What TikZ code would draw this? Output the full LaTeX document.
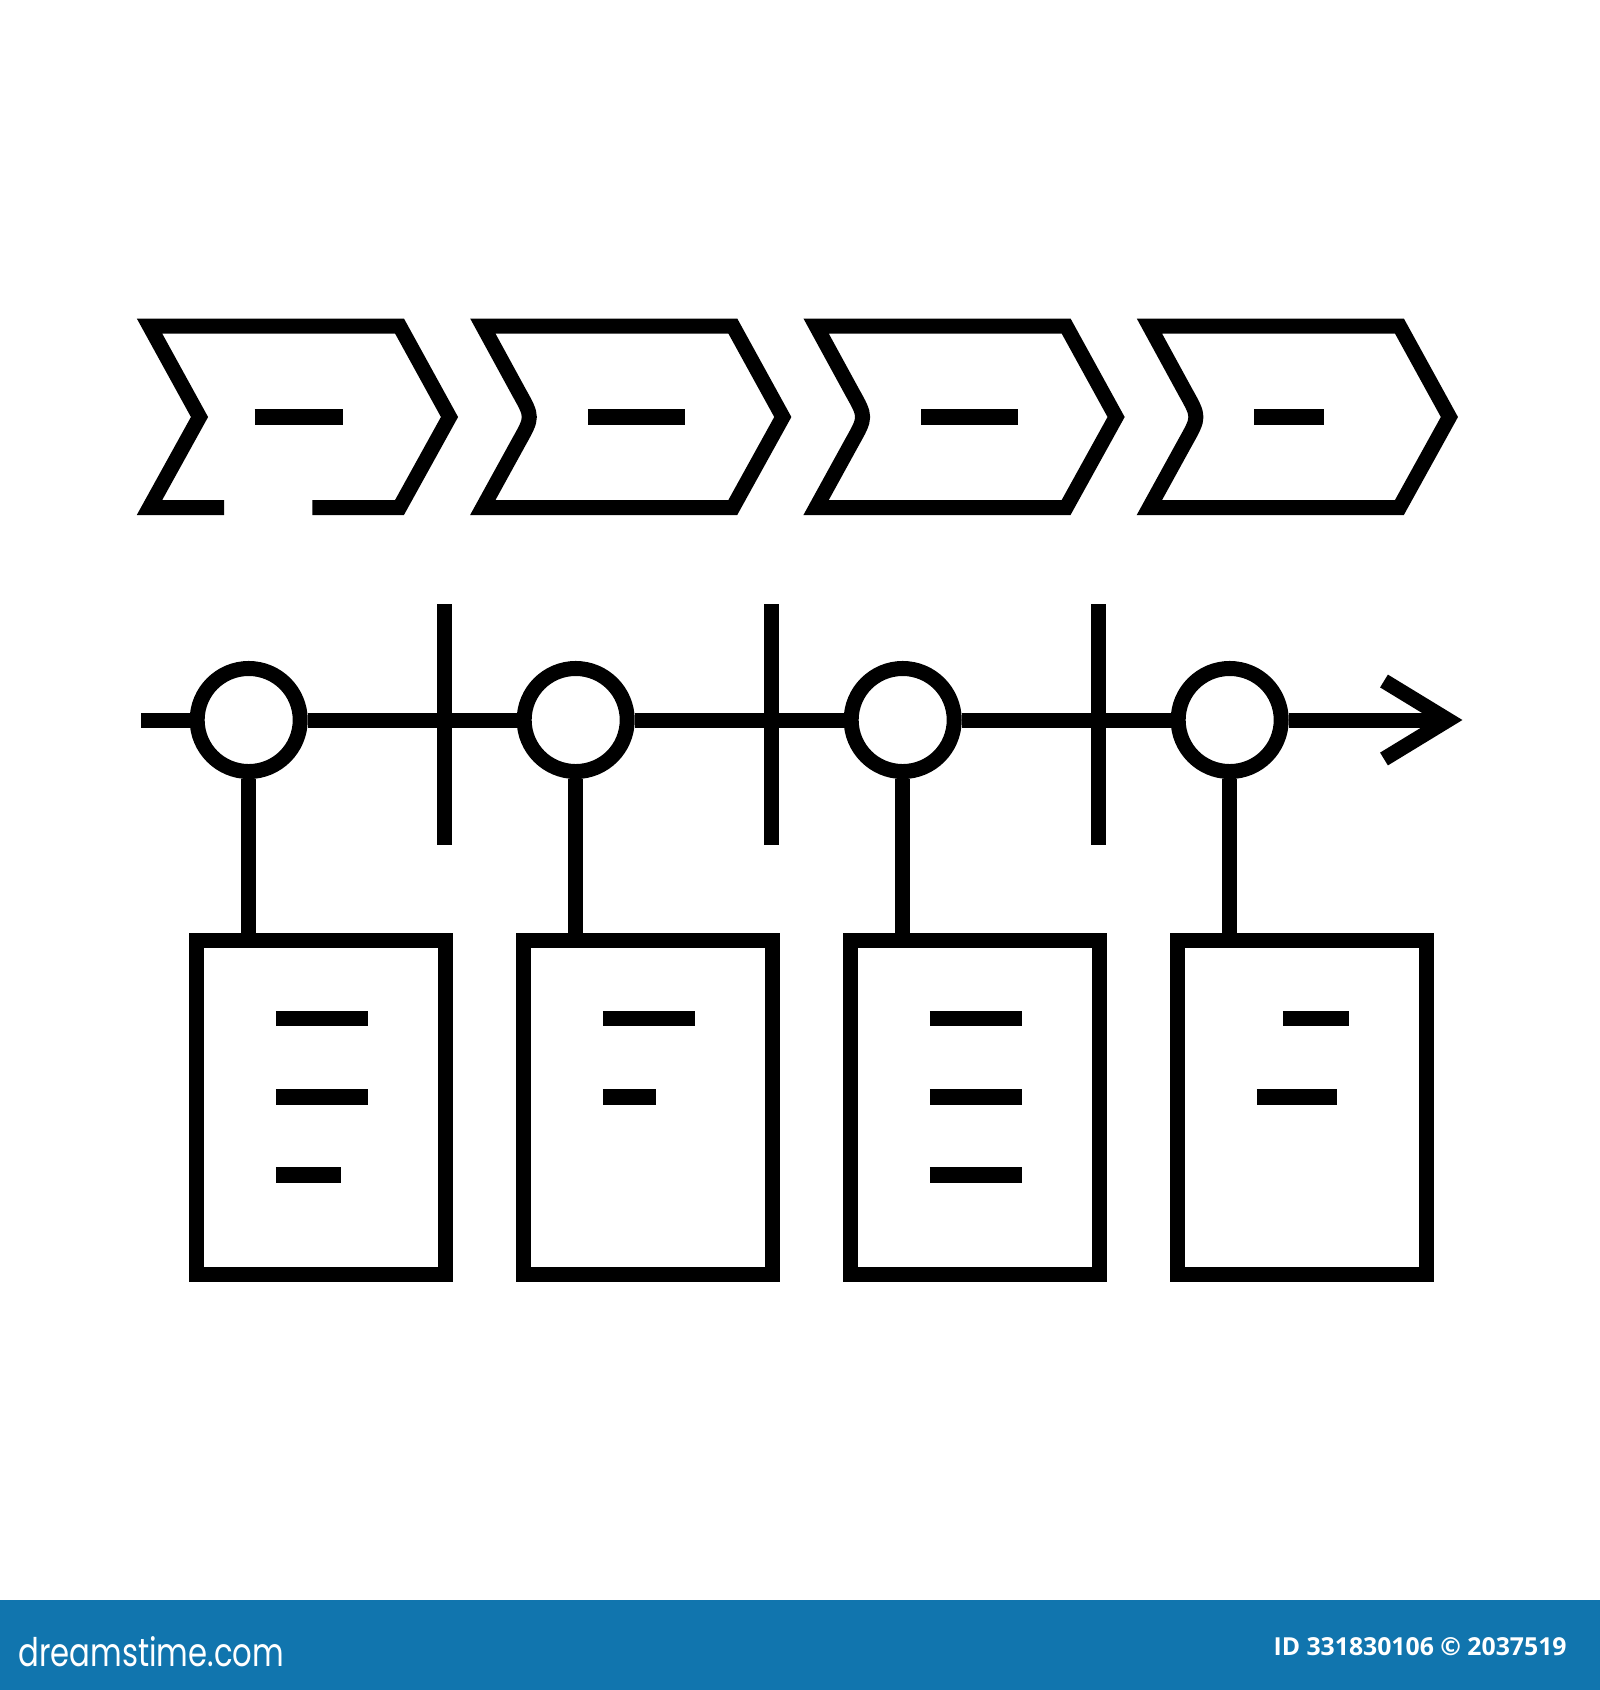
\documentclass[tikz,border=0pt]{standalone}
\usepackage{fontspec}
\newfontfamily\logofont{Poppins}
\newfontfamily\idfont{Open Sans}
\usetikzlibrary{calc}

\definecolor{bannerblue}{RGB}{17,117,174}

\begin{document}
\begin{tikzpicture}[x=0.01cm,y=-0.01cm,
	line width=0.15cm,
	ring/.style={draw,circle,minimum size=1.03cm,inner sep=0pt,fill=white},
	card/.style={draw,rectangle,minimum width=2.48cm,minimum height=3.33cm,inner sep=0pt,outer sep=0pt},
	bar/.style={line width=0.154cm,line cap=butt}]
	\useasboundingbox[fill=white] (0,0) rectangle (1600,1690);
	
	% chevrons, the first one is open at the bottom
	\begin{scope}[shift={(149.5,0)}]
		\draw[line join=miter] (74.5,507.5) -- (0,507.5) -- (50,417) -- (0,326) -- (250,326) -- (300,417) -- (250,507.5) -- (162.8,507.5);
	\end{scope}
	\foreach \k in {1,2,3}{
		\begin{scope}[shift={(149.5+333.3*\k,0)}]
			\draw[line join=miter] (0,326) -- (250,326) -- (300,417) -- (250,507.5) -- (0,507.5)
			-- (36,442) .. controls (50,417) .. (36,392) -- cycle;
		\end{scope}
	}
	\foreach \k/\w in {0/193,1/202,2/202,3/174.5}
	\draw[bar] ({149.5+333.3*\k+105},417) -- ({149.5+333.3*\k+\w},417);
	
	% timeline
	\foreach \i in {1,...,4}
	\node[ring] (c\i) at ({248.7+327*(\i-1)},720) {};
	\coordinate (start) at (141,720);
	\coordinate (tip) at (1448,720);
	\draw (start) -- (c1.west);
	\foreach \i/\j in {1/2,2/3,3/4}
	\draw (c\i.east) -- (c\j.west);
	\draw (c4.east) -- (tip);
	\draw[line join=miter] (1384,681) -- (tip) -- (1384,759);
	\foreach \x in {444.5,771.5,1098.5}
	\draw (\x,604) -- (\x,845);
	
	% cards
	\foreach \i in {1,...,4}{
		\node[card] (b\i) at ({321+327*(\i-1)},1107.5) {};
		\draw (c\i.south) -- (c\i.south |- b\i.north);
	}
	\begin{scope}[shift={(b1.north west)}]
		\draw[bar] (79,77.8) -- (171,77.8);
		\draw[bar] (79,156) -- (171,156);
		\draw[bar] (79,234) -- (144.3,234);
	\end{scope}
	\begin{scope}[shift={(b2.north west)}]
		\draw[bar] (79,77.8) -- (171,77.8);
		\draw[bar] (79,156) -- (132.5,156);
	\end{scope}
	\begin{scope}[shift={(b3.north west)}]
		\draw[bar] (79,77.8) -- (171,77.8);
		\draw[bar] (79,156) -- (171,156);
		\draw[bar] (79,234) -- (171,234);
	\end{scope}
	\begin{scope}[shift={(b4.north west)}]
		\draw[bar] (105,77.8) -- (171,77.8);
		\draw[bar] (79,156) -- (159,156);
	\end{scope}
	
	% banner
	\fill[bannerblue] (0,1600) rectangle (1600,1690);
	\node[anchor=base west,inner sep=0pt,text=white] (logo) at (11,1666)
	{\scalebox{0.78}[1]{\logofont\fontsize{11.2pt}{13pt}\selectfont dreamstime.com}};
	\node[anchor=base east,inner sep=0pt,text=white] (imgid) at (1574,1655)
	{\idfont\bfseries\fontsize{7.05pt}{8pt}\selectfont ID 331830106 © 2037519};
\end{tikzpicture}
\end{document}
